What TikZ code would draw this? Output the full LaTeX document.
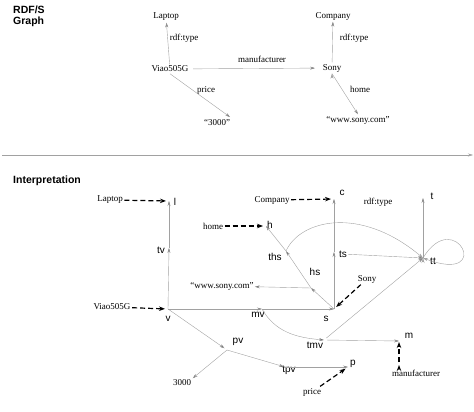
\documentclass[tikz,border=0pt]{standalone}
\usepackage{fontspec}
\setmainfont{Liberation Serif}
\setsansfont{Liberation Sans}
\usetikzlibrary{arrows.meta}

\begin{document}
\begin{tikzpicture}[x=1pt,y=-1pt]
        \tikzset{
        rdf lbl/.style={font=\fontsize{9}{10}\selectfont,inner sep=1.5pt},
        int lbl/.style={font=\sffamily\fontsize{10}{11}\selectfont,inner sep=1pt},
        head lbl/.style={font=\sffamily\bfseries\fontsize{10.5}{11}\selectfont,align=left,inner sep=0},
        rdf edge/.style={draw=black!37,-{Stealth[length=5pt,width=3pt]}},
        map edge/.style={draw=black,line width=1.2pt,dash pattern=on 5pt off 3pt,shorten >=3pt,-{Stealth[length=6pt,width=4.5pt]}}
        }
        \useasboundingbox (0,0) rectangle (474,412);

        % the RDF/S graph
        \node[head lbl,anchor=north west] (head g) at (13,6) {RDF/S\\Graph};
        \node[rdf lbl] (gLaptop) at (166,17) {Laptop};
        \node[rdf lbl] (gViao) at (170,69) {Viao505G};
        \node[rdf lbl] (gCompany) at (333,16) {Company};
        \node[rdf lbl] (gSony) at (332,68) {Sony};
        \node[rdf lbl] (g3000) at (217,123) {``3000''};
        \node[rdf lbl] (gWww) at (358,120) {``www.sony.com''};
        \node[rdf lbl] (gType1) at (184,38) {rdf:type};
        \node[rdf lbl] (gType2) at (354,38) {rdf:type};
        \node[rdf lbl] (gManu) at (262,59) {manufacturer};
        \node[rdf lbl] (gPrice) at (206,90) {price};
        \node[rdf lbl] (gHome) at (360,89) {home};

        \path[rdf edge]
        (gViao) edge (gLaptop)
        (gViao) edge[shorten <=3pt,shorten >=6pt] (gSony)
        (gViao.south) edge[shorten >=2pt] (g3000.north east)
        (gSony) edge (gCompany)
        (gSony.south) edge (gWww.north)
        ;

        % separator
        \coordinate (sepL) at (2,155);
        \coordinate (sepR) at (473,155);
        \draw[rdf edge] (sepL) -- (sepR);

        % the interpretation
        \node[head lbl,anchor=west] (head i) at (13,181) {Interpretation};

        \coordinate (l) at (169,201);
        \coordinate (tv) at (169,248);
        \coordinate (v) at (168,309);
        \coordinate (mv) at (262,309);
        \coordinate (s) at (334,309);
        \coordinate (pv) at (227,350);
        \coordinate (tpv) at (285,367);
        \coordinate (p) at (348,367);
        \coordinate (tmv) at (324,340);
        \coordinate (m) at (399,341);
        \coordinate (hs) at (311,288);
        \coordinate (ths) at (286,251);
        \coordinate (h) at (266,226);
        \coordinate (ts) at (334,252);
        \coordinate (c) at (334,199);
        \coordinate (tt) at (423,258);
        \coordinate (t) at (423,198);
        \coordinate (mtail) at (399,362);

        \node[int lbl] (lab l) at (175,202) {l};
        \node[int lbl] (lab c) at (342,193) {c};
        \node[int lbl] (lab t) at (432,196) {t};
        \node[int lbl] (lab h) at (270,225) {h};
        \node[int lbl] (lab ts) at (343,254) {ts};
        \node[int lbl] (lab tt) at (433,261) {tt};
        \node[int lbl] (lab ths) at (275,257) {ths};
        \node[int lbl] (lab hs) at (315,272) {hs};
        \node[int lbl] (lab tv) at (161,250) {tv};
        \node[int lbl] (lab v) at (168,319) {v};
        \node[int lbl] (lab s) at (326,319) {s};
        \node[int lbl] (lab mv) at (258,315) {mv};
        \node[int lbl] (lab pv) at (238,342) {pv};
        \node[int lbl] (lab tmv) at (315,345) {tmv};
        \node[int lbl] (lab m) at (409,336) {m};
        \node[int lbl] (lab tpv) at (289,370) {tpv};
        \node[int lbl] (lab p) at (353,364) {p};

        \node[rdf lbl] (iLaptop) at (110,200) {Laptop};
        \node[rdf lbl] (iCompany) at (272,200) {Company};
        \node[rdf lbl] (iType) at (378,202) {rdf:type};
        \node[rdf lbl] (iHome) at (213,226) {home};
        \node[rdf lbl,inner sep=1pt] (iWww) at (222,286) {``www.sony.com''};
        \node[rdf lbl] (iSony) at (367,279) {Sony};
        \node[rdf lbl] (iViao) at (112,307) {Viao505G};
        \node[rdf lbl] (i3000) at (182,383) {3000};
        \node[rdf lbl] (iManu) at (416,373) {manufacturer};
        \node[rdf lbl] (iPrice) at (312,392) {price};

        \path[rdf edge]
        (v) edge (tv)
        (tv) edge (l)
        (v) edge (mv)
        (mv) edge (s)
        (v) edge[shorten >=3pt] (pv)
        (pv) edge (i3000.north east)
        (pv) edge[shorten >=1pt] (tpv)
        (tpv) edge (p)
        (mv) edge[out=-60,in=175] (tmv)
        (tmv) edge[shorten <=3pt] (m)
        (tmv) edge[shorten <=3pt] (tt)
        (s) edge (hs)
        (hs) edge (ths)
        (ths) edge (h)
        (hs) edge (iWww)
        (s) edge (ts)
        (ts) edge (c)
        (lab ts) edge (tt)
        (tt) edge (t)
        ;
        \draw[rdf edge] (ths) .. controls (300,220) and (360,205) .. (tt);
        \draw[rdf edge] (tt) .. controls (455,205) and (495,285) .. (tt);

        \path[map edge]
        (iLaptop) edge (l)
        (iCompany) edge (c)
        (iHome) edge (h)
        (iViao) edge (v)
        (iSony) edge (s)
        (iPrice) edge (p)
        (mtail) edge[shorten >=1pt] (m)
        ;
\end{tikzpicture}
\end{document}
